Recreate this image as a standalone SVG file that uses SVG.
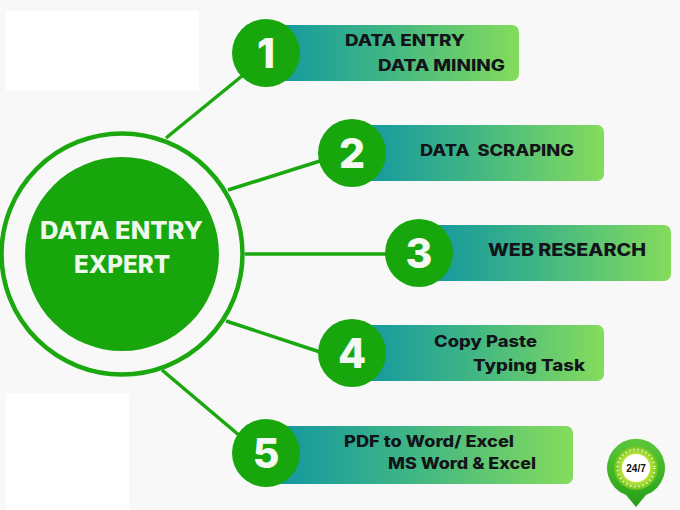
<svg xmlns="http://www.w3.org/2000/svg" width="680" height="510" viewBox="0 0 680 510">
<style>
.l{fill:none;stroke:#1aa80e;stroke-width:3.5}
.b{fill:url(#g)}
.c{fill:#17a60c}
.n{font:800 41px "Inter","Open Sans",sans-serif;fill:#f4f8f2;text-anchor:middle}
.t{font:800 15.5px "Inter","Open Sans",sans-serif;fill:#12141a}
.h{font:800 24px "Inter","Open Sans",sans-serif;fill:#eef7ea}
</style>
<defs>
<linearGradient id="g" x1="0" x2="1" y1="0" y2="0"><stop offset="0" stop-color="#0f95a3"/><stop offset=".45" stop-color="#3db486"/><stop offset="1" stop-color="#84dc5c"/></linearGradient>
<radialGradient id="p" cx=".5" cy=".5" r=".5"><stop offset=".55" stop-color="#d4ec45"/><stop offset="1" stop-color="#66c41e"/></radialGradient>
<linearGradient id="q" x1="0" x2="0" y1="0" y2="1"><stop offset="0" stop-color="#5cc83a"/><stop offset="1" stop-color="#239f17"/></linearGradient>
</defs>
<rect width="680" height="510" fill="#f8f8f9"/>
<rect x="6" y="11" width="193" height="80" fill="#fff"/>
<rect x="6" y="393" width="123" height="117" fill="#fff"/>
<g id="connectors" class="l">
<line x1="166" y1="138" x2="242" y2="76"/>
<line x1="228" y1="190" x2="320" y2="161"/>
<line x1="245" y1="254" x2="387" y2="254"/>
<line x1="226" y1="321" x2="320" y2="352"/>
<line x1="162" y1="370" x2="240" y2="436"/>
</g>
<g id="hub">
<circle cx="122" cy="254" r="120.5" fill="none" stroke="#1aa80e" stroke-width="4.5"/>
<circle cx="122" cy="254" r="97" class="c"/>
<text class="h" x="40" y="239" textLength="163" lengthAdjust="spacingAndGlyphs">DATA ENTRY</text>
<text class="h" x="74" y="273" textLength="96" lengthAdjust="spacingAndGlyphs">EXPERT</text>
</g>
<g id="node1">
<rect x="266" y="25" width="253" height="56" rx="7" class="b"/>
<circle cx="266" cy="53" r="34" class="c"/>
<text class="n" x="266" y="68">1</text>
<text class="t" x="345" y="46" textLength="120" lengthAdjust="spacingAndGlyphs">DATA ENTRY</text>
<text class="t" x="378" y="71" textLength="127" lengthAdjust="spacingAndGlyphs">DATA MINING</text>
</g>
<g id="node2">
<rect x="352" y="125" width="252" height="56" rx="7" class="b"/>
<circle cx="352" cy="153" r="34" class="c"/>
<text class="n" x="352" y="168">2</text>
<text class="t" x="420" y="156" xml:space="preserve" textLength="154" lengthAdjust="spacingAndGlyphs">DATA  SCRAPING</text>
</g>
<g id="node3">
<rect x="419" y="225" width="252" height="56" rx="7" class="b"/>
<circle cx="419" cy="253" r="34" class="c"/>
<text class="n" x="419" y="268">3</text>
<text class="t" x="488" y="256" style="font-size:17px" textLength="158" lengthAdjust="spacingAndGlyphs">WEB RESEARCH</text>
</g>
<g id="node4">
<rect x="352" y="325" width="252" height="56" rx="7" class="b"/>
<circle cx="352" cy="353" r="34" class="c"/>
<text class="n" x="352" y="368">4</text>
<text class="t" x="434" y="347" textLength="103" lengthAdjust="spacingAndGlyphs">Copy Paste</text>
<text class="t" x="473" y="371" textLength="112" lengthAdjust="spacingAndGlyphs">Typing Task</text>
</g>
<g id="node5">
<rect x="266" y="426" width="307" height="58" rx="7" class="b"/>
<circle cx="266" cy="453" r="34" class="c"/>
<text class="n" x="266" y="468">5</text>
<text class="t" x="344" y="447" textLength="170" lengthAdjust="spacingAndGlyphs">PDF to Word/ Excel</text>
<text class="t" x="388" y="469" textLength="148" lengthAdjust="spacingAndGlyphs">MS Word &amp; Excel</text>
</g>
<g id="badge">
<path d="M636 507 L626 495 A29 29 0 1 1 646 495 Z" fill="url(#q)"/>
<circle cx="636" cy="468" r="22" fill="url(#p)"/>
<circle cx="636" cy="468" r="18.5" fill="none" stroke="#f4fbd8" stroke-width="2" stroke-dasharray="1.2 3"/>
<circle cx="636" cy="468" r="14" fill="#fff"/>
<text x="636" y="472" text-anchor="middle" style="font:bold 10px 'Liberation Sans',sans-serif" fill="#111">24/7</text>
</g>
</svg>
